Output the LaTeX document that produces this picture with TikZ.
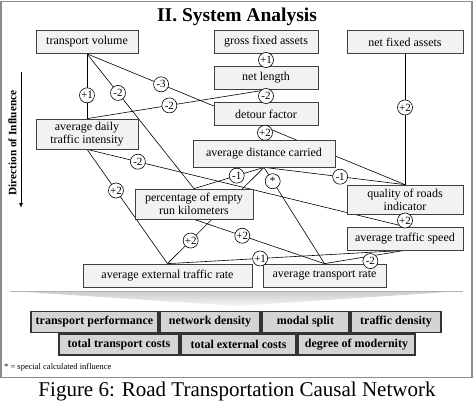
\documentclass[tikz,border=0pt]{standalone}
\usepackage{fontspec}
\setmainfont{Liberation Serif}
\usetikzlibrary{calc,backgrounds,arrows.meta}
\begin{document}
\begin{tikzpicture}[x=1pt,y=-1pt,
  box/.style={draw=black!75, fill=black!5, line width=0.7pt, inner sep=1pt, align=center, font=\fontsize{12}{13}\selectfont},
  res/.style={draw=black!80, fill=black!17, line width=1.1pt, inner sep=1pt, minimum height=21pt, font=\bfseries\fontsize{12}{13}\selectfont},
  lbl/.style={circle, draw=black, fill=white, line width=0.6pt, inner sep=0pt, minimum size=15pt, font=\fontsize{11}{12}\selectfont},
  edge/.style={draw=black, line width=0.6pt}]
\useasboundingbox (0,0) rectangle (474,401);
% frame
\draw[black!45, line width=1.6pt] (0.8,1.5) rectangle (472,377.5);
% title
\node[font=\bfseries\fontsize{19.5}{22}\selectfont] (title) at (237,17) {II. System Analysis};
% direction of influence
\node[rotate=90, font=\bfseries\fontsize{11.3}{13}\selectfont] (dir) at (12.5,143) {Direction of Influence};
\coordinate (da) at (21,72);
\coordinate (db) at (21,208);
\draw[-{Latex[length=5pt,width=4pt]}, line width=1pt] (da) -- (db);
% boxes
\node[box, minimum width=102pt, minimum height=23pt] (tv) at (87,42) {transport volume};
\node[box, minimum width=104pt, minimum height=23pt] (gfa) at (266,42) {gross fixed assets};
\node[box, minimum width=116pt, minimum height=23pt] (nfa) at (405,42) {net fixed assets};
\node[box, minimum width=104pt, minimum height=23pt] (nl) at (266,78) {net length};
\node[box, minimum width=104pt, minimum height=23pt] (df) at (266,114) {detour factor};
\node[box, minimum width=102pt, minimum height=30pt] (adti) at (87,134) {average daily\\traffic intensity};
\node[box, minimum width=142pt, minimum height=27pt] (adc) at (264,153.5) {average distance carried};
\node[box, minimum width=118pt, minimum height=30pt] (perk) at (194,204) {percentage of empty\\run kilometers};
\node[box, minimum width=116pt, minimum height=29pt] (qri) at (405,199.5) {quality of roads\\indicator};
\node[box, minimum width=116pt, minimum height=23pt] (ats) at (405,238.5) {average traffic speed};
\node[box, minimum width=169pt, minimum height=23pt] (aetr) at (167.5,275.5) {average external traffic rate};
\node[box, minimum width=123pt, minimum height=23pt] (atr) at (324.5,275.5) {average transport rate};
% edges beneath boxes
\begin{pgfonlayer}{background}
\draw[edge] (tv.south) -- (adti.north);
\draw[edge] (tv.south) -- (perk.north);
\draw[edge] (tv.south) -- (qri.north);
\draw[edge] (adti.north) -- (nl.south);
\draw[edge] (gfa.south) -- (nl.north);
\draw[edge] (nl.south) -- (df.north);
\draw[edge] (df.south) -- (adc.north);
\draw[edge] (nfa.south) -- (qri.north);
\draw[edge] (adti.south) -- (ats.north);
\draw[edge] (adti.south) -- (aetr.north);
\draw[edge] (adc.south) -- (perk.north);
\draw[edge] (adc.south) -- (aetr.north);
\draw[edge] (adc.south) -- (atr.north);
\draw[edge] (adc.south) -- (qri.north);
\draw[edge] (qri.south) -- (ats.north);
\draw[edge] (perk.south) -- (atr.north);
\draw[edge] (aetr.north) -- (ats.south);
\draw[edge] (atr.north) -- (ats.south);
\end{pgfonlayer}
% labels
\node[lbl] (l1) at ($(tv.south)!0.64!(adti.north)$) {+1};
\node[lbl] (l2) at ($(tv.south)!0.29!(perk.north)$) {-2};
\node[lbl] (l3) at ($(tv.south)!0.233!(qri.north)$) {-3};
\node[lbl] (l4) at ($(adti.north)!0.46!(nl.south)$) {-2};
\node[lbl] (l5) at ($(gfa.south)!0.5!(nl.north)$) {+1};
\node[lbl] (l6) at ($(nl.south)!0.5!(df.north)$) {-2};
\node[lbl] (l7) at ($(df.south)!0.5!(adc.north)$) {+2};
\node[lbl] (l8) at ($(nfa.south)!0.41!(qri.north)$) {+2};
\node[lbl] (l9) at ($(adti.south)!0.16!(ats.north)$) {-2};
\node[lbl] (l10) at ($(adti.south)!0.36!(aetr.north)$) {+2};
\node[lbl] (l11) at ($(adc.south)!0.39!(perk.north)$) {-1};
\node[lbl] (l12) at ($(adc.south)!0.76!(aetr.north)$) {+2};
\node[lbl] (l13) at ($(adc.south)!0.144!(atr.north)$) {*};
\node[lbl] (l14) at ($(adc.south)!0.54!(qri.north)$) {-1};
\node[lbl] (l15) at ($(qri.south)!0.5!(ats.north)$) {+2};
\node[lbl] (l16) at ($(perk.south)!0.37!(atr.north)$) {+2};
\node[lbl] (l17) at ($(aetr.north)!0.39!(ats.south)$) {+1};
\node[lbl, yshift=-5pt] (l18) at ($(atr.north)!0.57!(ats.south)$) {-2};
% chevron
\shade[top color=black!20, bottom color=black!4] (10,291) -- (463,291) -- (237,306) -- cycle;
\draw[black!30, line width=0.6pt] (10,291) -- (463,291);
% result boxes
\node[res, minimum width=127pt] (tp) at (94.5,322) {transport performance};
\node[res, minimum width=100pt] (nd) at (210,322) {network density};
\node[res, minimum width=87pt] (ms) at (305.5,322) {modal split};
\node[res, minimum width=90pt] (td) at (396,322) {traffic density};
\node[res, minimum width=120pt] (ttc) at (119,344.5) {total transport costs};
\node[res, minimum width=115pt] (tec) at (238.5,344.5) {total external costs};
\node[res, minimum width=117pt] (dom) at (356.5,344.5) {degree of modernity};
% footnote and caption
\node[anchor=west, inner sep=0pt, font=\fontsize{8.5}{10}\selectfont] (fn) at (4,367) {* = special calculated influence};
\node[font=\fontsize{21}{24}\selectfont] (cap) at (237,391) {Figure 6: Road Transportation Causal Network};
\end{tikzpicture}
\end{document}
